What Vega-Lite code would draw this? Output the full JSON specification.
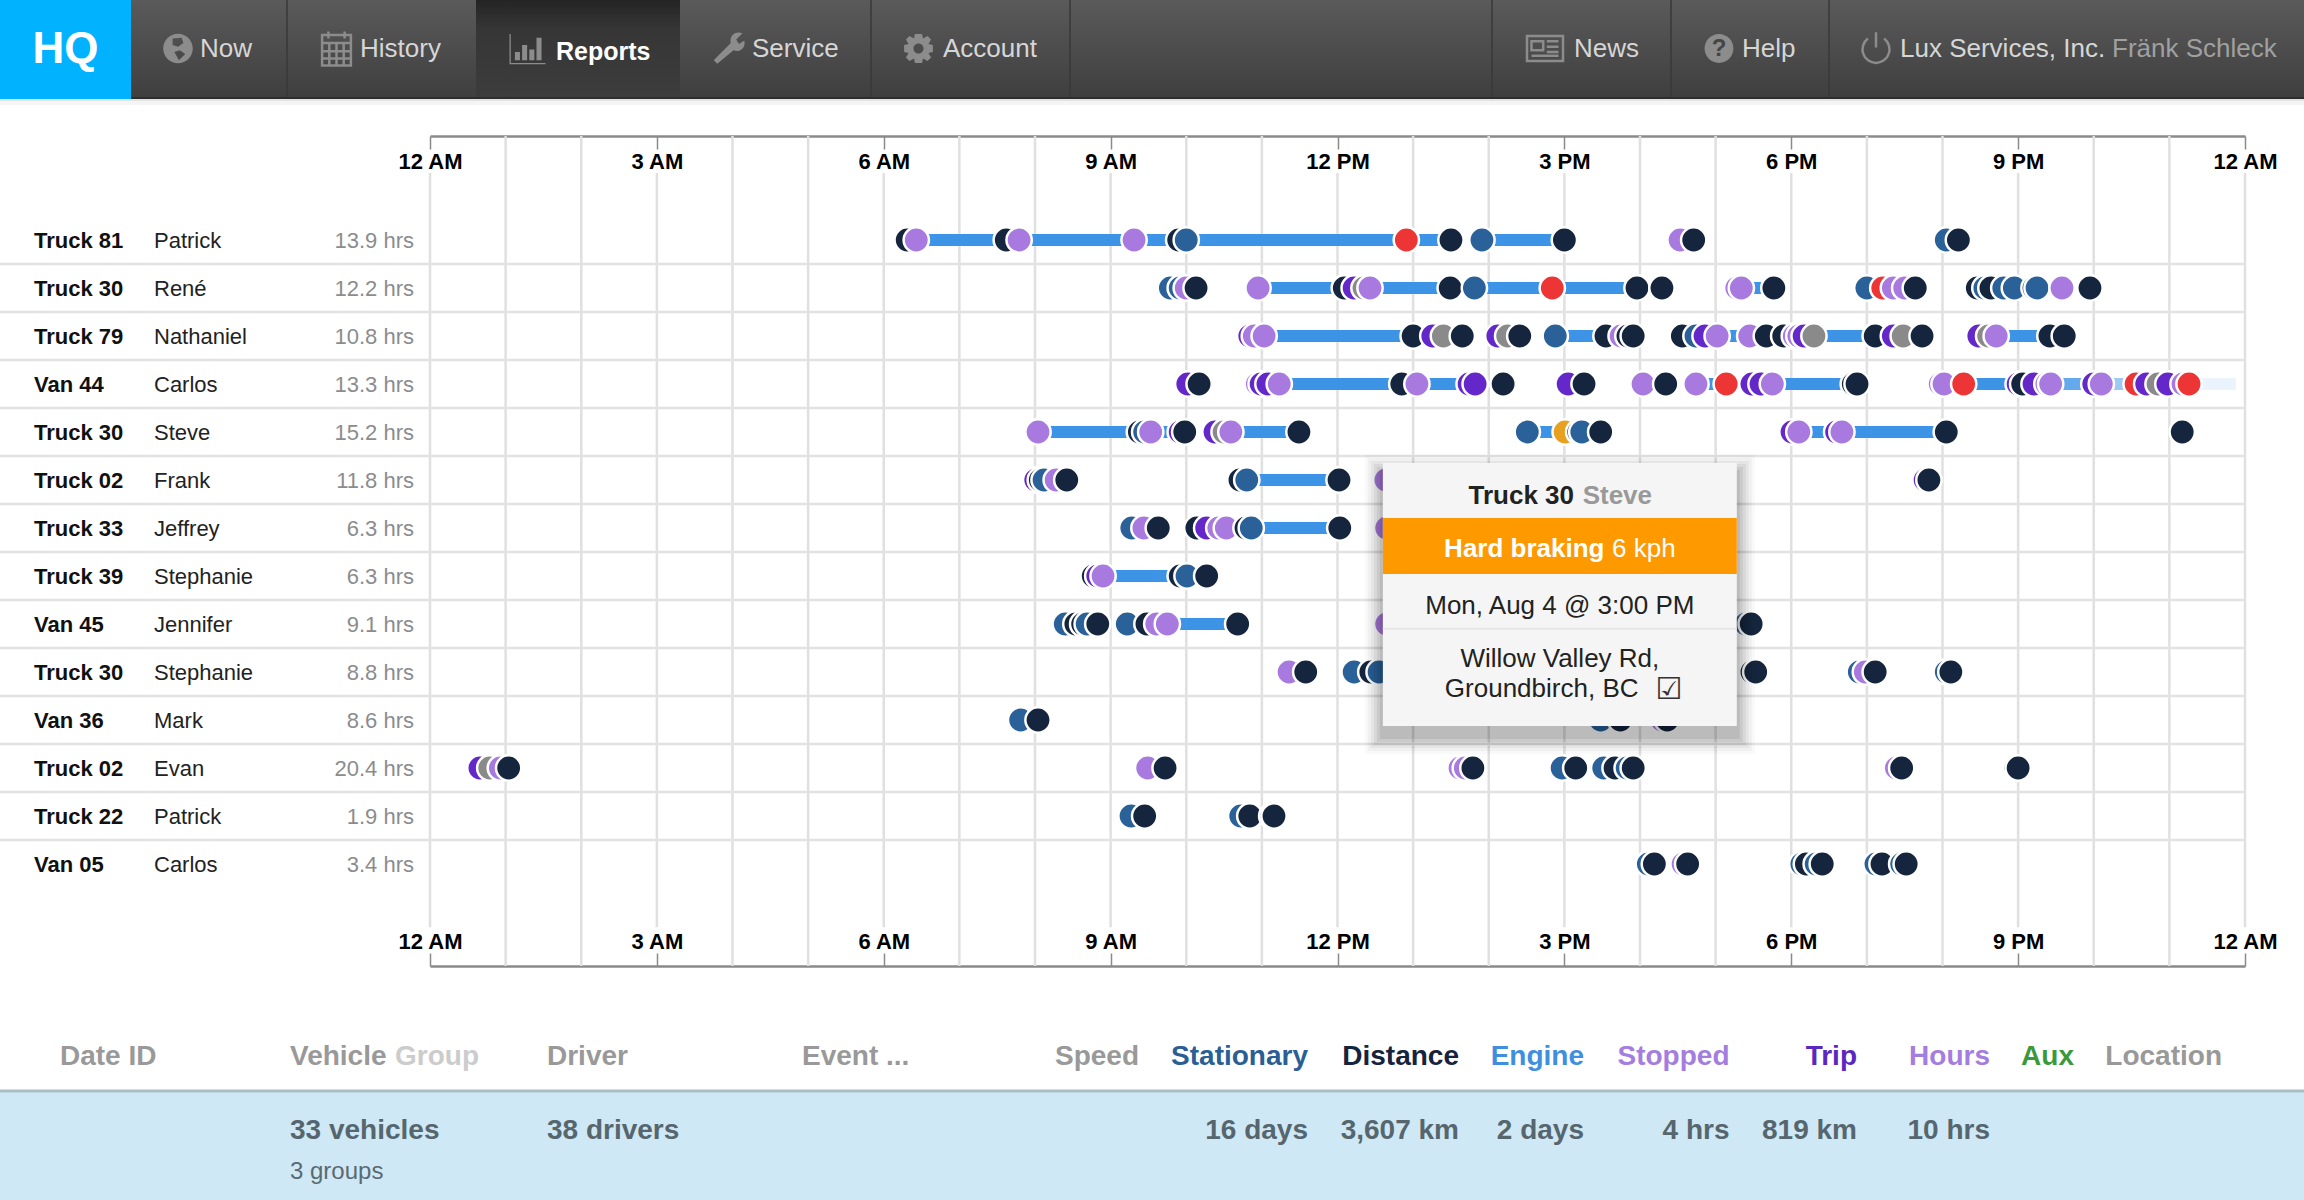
{
  "$schema": "https://vega.github.io/schema/vega-lite/v6.json",
  "width": 2304,
  "height": 1200,
  "padding": 0,
  "autosize": {"type": "none"},
  "background": "white",
  "config": {"font": "Liberation Sans", "view": {"stroke": null}},
  "datasets": {
    "rows": [
      {"row": 1, "vehicle": "Truck 81", "driver": "Patrick", "hours": "13.9 hrs"},
      {"row": 2, "vehicle": "Truck 30", "driver": "René", "hours": "12.2 hrs"},
      {"row": 3, "vehicle": "Truck 79", "driver": "Nathaniel", "hours": "10.8 hrs"},
      {"row": 4, "vehicle": "Van 44", "driver": "Carlos", "hours": "13.3 hrs"},
      {"row": 5, "vehicle": "Truck 30", "driver": "Steve", "hours": "15.2 hrs"},
      {"row": 6, "vehicle": "Truck 02", "driver": "Frank", "hours": "11.8 hrs"},
      {"row": 7, "vehicle": "Truck 33", "driver": "Jeffrey", "hours": "6.3 hrs"},
      {"row": 8, "vehicle": "Truck 39", "driver": "Stephanie", "hours": "6.3 hrs"},
      {"row": 9, "vehicle": "Van 45", "driver": "Jennifer", "hours": "9.1 hrs"},
      {"row": 10, "vehicle": "Truck 30", "driver": "Stephanie", "hours": "8.8 hrs"},
      {"row": 11, "vehicle": "Van 36", "driver": "Mark", "hours": "8.6 hrs"},
      {"row": 12, "vehicle": "Truck 02", "driver": "Evan", "hours": "20.4 hrs"},
      {"row": 13, "vehicle": "Truck 22", "driver": "Patrick", "hours": "1.9 hrs"},
      {"row": 14, "vehicle": "Van 05", "driver": "Carlos", "hours": "3.4 hrs"}
    ],
    "trips": [
      {"row": 1, "hour": 6.43, "end": 13.5, "strength": 1},
      {"row": 1, "hour": 13.91, "end": 15.0, "strength": 1},
      {"row": 2, "hour": 10.95, "end": 12.09, "strength": 1},
      {"row": 2, "hour": 12.43, "end": 15.96, "strength": 1},
      {"row": 2, "hour": 17.34, "end": 17.77, "strength": 1},
      {"row": 3, "hour": 11.03, "end": 13.0, "strength": 1},
      {"row": 3, "hour": 14.88, "end": 15.55, "strength": 1},
      {"row": 3, "hour": 17.02, "end": 17.45, "strength": 1},
      {"row": 3, "hour": 18.3, "end": 19.11, "strength": 1},
      {"row": 3, "hour": 20.71, "end": 21.42, "strength": 1},
      {"row": 4, "hour": 11.23, "end": 12.85, "strength": 1},
      {"row": 4, "hour": 13.05, "end": 13.74, "strength": 1},
      {"row": 4, "hour": 16.74, "end": 17.14, "strength": 1},
      {"row": 4, "hour": 17.75, "end": 18.82, "strength": 1},
      {"row": 4, "hour": 20.28, "end": 21.0, "strength": 1},
      {"row": 4, "hour": 21.43, "end": 22.0, "strength": 0.8},
      {"row": 4, "hour": 22.1, "end": 22.56, "strength": 0.5},
      {"row": 4, "hour": 23.26, "end": 23.88, "strength": 0.1},
      {"row": 5, "hour": 8.04, "end": 9.38, "strength": 1},
      {"row": 5, "hour": 9.53, "end": 9.92, "strength": 1},
      {"row": 5, "hour": 10.59, "end": 11.49, "strength": 1},
      {"row": 5, "hour": 14.51, "end": 15.01, "strength": 1},
      {"row": 5, "hour": 18.1, "end": 18.6, "strength": 1},
      {"row": 5, "hour": 18.67, "end": 20.05, "strength": 1},
      {"row": 6, "hour": 10.8, "end": 12.02, "strength": 1},
      {"row": 7, "hour": 10.86, "end": 12.03, "strength": 1},
      {"row": 8, "hour": 8.9, "end": 9.92, "strength": 1},
      {"row": 9, "hour": 9.75, "end": 10.68, "strength": 1}
    ],
    "events": [
      {"row": 1, "hour": 6.31, "kind": "Distance"}, {"row": 1, "hour": 6.43, "kind": "Stopped"},
      {"row": 1, "hour": 7.62, "kind": "Distance"}, {"row": 1, "hour": 7.79, "kind": "Stopped"},
      {"row": 1, "hour": 9.31, "kind": "Stopped"}, {"row": 1, "hour": 9.9, "kind": "Distance"},
      {"row": 1, "hour": 10.0, "kind": "Stationary"}, {"row": 1, "hour": 12.91, "kind": "Speed"},
      {"row": 1, "hour": 13.5, "kind": "Distance"}, {"row": 1, "hour": 13.91, "kind": "Stationary"},
      {"row": 1, "hour": 15.0, "kind": "Distance"}, {"row": 1, "hour": 16.53, "kind": "Stopped"},
      {"row": 1, "hour": 16.71, "kind": "Distance"}, {"row": 1, "hour": 20.05, "kind": "Stationary"},
      {"row": 1, "hour": 20.21, "kind": "Distance"},
      {"row": 2, "hour": 9.79, "kind": "Stationary"}, {"row": 2, "hour": 9.92, "kind": "Stationary"},
      {"row": 2, "hour": 10.0, "kind": "Stopped"}, {"row": 2, "hour": 10.13, "kind": "Distance"},
      {"row": 2, "hour": 10.95, "kind": "Stopped"}, {"row": 2, "hour": 12.09, "kind": "Distance"},
      {"row": 2, "hour": 12.22, "kind": "Trip"}, {"row": 2, "hour": 12.35, "kind": "Location"},
      {"row": 2, "hour": 12.43, "kind": "Stopped"}, {"row": 2, "hour": 13.49, "kind": "Distance"},
      {"row": 2, "hour": 13.81, "kind": "Stationary"}, {"row": 2, "hour": 14.84, "kind": "Speed"},
      {"row": 2, "hour": 15.96, "kind": "Distance"}, {"row": 2, "hour": 16.29, "kind": "Distance"},
      {"row": 2, "hour": 17.28, "kind": "Stopped"}, {"row": 2, "hour": 17.34, "kind": "Stopped"},
      {"row": 2, "hour": 17.77, "kind": "Distance"}, {"row": 2, "hour": 19.0, "kind": "Stationary"},
      {"row": 2, "hour": 19.21, "kind": "Speed"}, {"row": 2, "hour": 19.35, "kind": "Stopped"},
      {"row": 2, "hour": 19.5, "kind": "Stopped"}, {"row": 2, "hour": 19.64, "kind": "Distance"},
      {"row": 2, "hour": 20.46, "kind": "Distance"}, {"row": 2, "hour": 20.56, "kind": "Stationary"},
      {"row": 2, "hour": 20.64, "kind": "Distance"}, {"row": 2, "hour": 20.81, "kind": "Stationary"},
      {"row": 2, "hour": 20.95, "kind": "Stationary"}, {"row": 2, "hour": 21.21, "kind": "Distance"},
      {"row": 2, "hour": 21.25, "kind": "Stationary"}, {"row": 2, "hour": 21.58, "kind": "Stopped"},
      {"row": 2, "hour": 21.95, "kind": "Distance"},
      {"row": 3, "hour": 10.84, "kind": "Trip"}, {"row": 3, "hour": 10.9, "kind": "Stopped"},
      {"row": 3, "hour": 11.03, "kind": "Stopped"}, {"row": 3, "hour": 13.0, "kind": "Distance"},
      {"row": 3, "hour": 13.26, "kind": "Trip"}, {"row": 3, "hour": 13.4, "kind": "Location"},
      {"row": 3, "hour": 13.65, "kind": "Distance"}, {"row": 3, "hour": 14.12, "kind": "Trip"},
      {"row": 3, "hour": 14.25, "kind": "Location"}, {"row": 3, "hour": 14.41, "kind": "Distance"},
      {"row": 3, "hour": 14.88, "kind": "Stationary"}, {"row": 3, "hour": 15.55, "kind": "Distance"},
      {"row": 3, "hour": 15.75, "kind": "Stopped"}, {"row": 3, "hour": 15.84, "kind": "Distance"},
      {"row": 3, "hour": 15.91, "kind": "Distance"}, {"row": 3, "hour": 16.56, "kind": "Distance"},
      {"row": 3, "hour": 16.74, "kind": "Stationary"}, {"row": 3, "hour": 16.86, "kind": "Trip"},
      {"row": 3, "hour": 17.02, "kind": "Stopped"}, {"row": 3, "hour": 17.45, "kind": "Stopped"},
      {"row": 3, "hour": 17.67, "kind": "Distance"}, {"row": 3, "hour": 17.9, "kind": "Distance"},
      {"row": 3, "hour": 18.04, "kind": "Stopped"}, {"row": 3, "hour": 18.1, "kind": "Stopped"},
      {"row": 3, "hour": 18.17, "kind": "Trip"}, {"row": 3, "hour": 18.3, "kind": "Location"},
      {"row": 3, "hour": 19.11, "kind": "Distance"}, {"row": 3, "hour": 19.35, "kind": "Trip"},
      {"row": 3, "hour": 19.48, "kind": "Location"}, {"row": 3, "hour": 19.73, "kind": "Distance"},
      {"row": 3, "hour": 20.48, "kind": "Trip"}, {"row": 3, "hour": 20.61, "kind": "Location"},
      {"row": 3, "hour": 20.71, "kind": "Stopped"}, {"row": 3, "hour": 21.42, "kind": "Distance"},
      {"row": 3, "hour": 21.61, "kind": "Distance"},
      {"row": 4, "hour": 10.02, "kind": "Trip"}, {"row": 4, "hour": 10.17, "kind": "Distance"},
      {"row": 4, "hour": 10.94, "kind": "Stopped"}, {"row": 4, "hour": 10.99, "kind": "Trip"},
      {"row": 4, "hour": 11.08, "kind": "Trip"}, {"row": 4, "hour": 11.23, "kind": "Stopped"},
      {"row": 4, "hour": 12.85, "kind": "Distance"}, {"row": 4, "hour": 13.05, "kind": "Stopped"},
      {"row": 4, "hour": 13.74, "kind": "Trip"}, {"row": 4, "hour": 13.82, "kind": "Trip"},
      {"row": 4, "hour": 14.19, "kind": "Distance"}, {"row": 4, "hour": 15.05, "kind": "Trip"},
      {"row": 4, "hour": 15.26, "kind": "Distance"}, {"row": 4, "hour": 16.04, "kind": "Stopped"},
      {"row": 4, "hour": 16.34, "kind": "Distance"}, {"row": 4, "hour": 16.74, "kind": "Stopped"},
      {"row": 4, "hour": 17.14, "kind": "Speed"}, {"row": 4, "hour": 17.48, "kind": "Trip"},
      {"row": 4, "hour": 17.6, "kind": "Trip"}, {"row": 4, "hour": 17.75, "kind": "Stopped"},
      {"row": 4, "hour": 18.82, "kind": "Distance"}, {"row": 4, "hour": 18.87, "kind": "Distance"},
      {"row": 4, "hour": 19.97, "kind": "Stopped"}, {"row": 4, "hour": 20.02, "kind": "Stopped"},
      {"row": 4, "hour": 20.28, "kind": "Speed"}, {"row": 4, "hour": 21.0, "kind": "Trip"},
      {"row": 4, "hour": 21.06, "kind": "Distance"}, {"row": 4, "hour": 21.21, "kind": "Trip"},
      {"row": 4, "hour": 21.38, "kind": "Stopped"}, {"row": 4, "hour": 21.43, "kind": "Stopped"},
      {"row": 4, "hour": 22.0, "kind": "Trip"}, {"row": 4, "hour": 22.1, "kind": "Stopped"},
      {"row": 4, "hour": 22.56, "kind": "Speed"}, {"row": 4, "hour": 22.7, "kind": "Trip"},
      {"row": 4, "hour": 22.85, "kind": "Location"}, {"row": 4, "hour": 22.98, "kind": "Trip"},
      {"row": 4, "hour": 23.18, "kind": "Stopped"}, {"row": 4, "hour": 23.26, "kind": "Speed"},
      {"row": 5, "hour": 8.04, "kind": "Stopped"}, {"row": 5, "hour": 9.38, "kind": "Distance"},
      {"row": 5, "hour": 9.45, "kind": "Stationary"}, {"row": 5, "hour": 9.53, "kind": "Stopped"},
      {"row": 5, "hour": 9.92, "kind": "Trip"}, {"row": 5, "hour": 9.98, "kind": "Distance"},
      {"row": 5, "hour": 10.38, "kind": "Trip"}, {"row": 5, "hour": 10.5, "kind": "Location"},
      {"row": 5, "hour": 10.59, "kind": "Stopped"}, {"row": 5, "hour": 11.49, "kind": "Distance"},
      {"row": 5, "hour": 14.51, "kind": "Stationary"}, {"row": 5, "hour": 15.01, "kind": "Braking"},
      {"row": 5, "hour": 15.19, "kind": "Distance"}, {"row": 5, "hour": 15.23, "kind": "Stationary"},
      {"row": 5, "hour": 15.48, "kind": "Distance"}, {"row": 5, "hour": 18.01, "kind": "Trip"},
      {"row": 5, "hour": 18.1, "kind": "Stopped"}, {"row": 5, "hour": 18.6, "kind": "Trip"},
      {"row": 5, "hour": 18.67, "kind": "Stopped"}, {"row": 5, "hour": 20.05, "kind": "Distance"},
      {"row": 5, "hour": 23.17, "kind": "Distance"},
      {"row": 6, "hour": 8.01, "kind": "Trip"}, {"row": 6, "hour": 8.07, "kind": "Distance"},
      {"row": 6, "hour": 8.12, "kind": "Stationary"}, {"row": 6, "hour": 8.28, "kind": "Stopped"},
      {"row": 6, "hour": 8.42, "kind": "Distance"}, {"row": 6, "hour": 10.71, "kind": "Distance"},
      {"row": 6, "hour": 10.8, "kind": "Stationary"}, {"row": 6, "hour": 12.02, "kind": "Distance"},
      {"row": 6, "hour": 12.64, "kind": "Stopped"}, {"row": 6, "hour": 19.77, "kind": "Trip"},
      {"row": 6, "hour": 19.82, "kind": "Distance"},
      {"row": 7, "hour": 9.28, "kind": "Stationary"}, {"row": 7, "hour": 9.44, "kind": "Stopped"},
      {"row": 7, "hour": 9.63, "kind": "Distance"}, {"row": 7, "hour": 10.14, "kind": "Distance"},
      {"row": 7, "hour": 10.27, "kind": "Trip"}, {"row": 7, "hour": 10.43, "kind": "Stopped"},
      {"row": 7, "hour": 10.53, "kind": "Stopped"}, {"row": 7, "hour": 10.79, "kind": "Distance"},
      {"row": 7, "hour": 10.86, "kind": "Stationary"}, {"row": 7, "hour": 12.03, "kind": "Distance"},
      {"row": 7, "hour": 12.65, "kind": "Stopped"},
      {"row": 8, "hour": 8.77, "kind": "Distance"}, {"row": 8, "hour": 8.83, "kind": "Trip"},
      {"row": 8, "hour": 8.9, "kind": "Stopped"}, {"row": 8, "hour": 9.92, "kind": "Distance"},
      {"row": 8, "hour": 10.01, "kind": "Stationary"}, {"row": 8, "hour": 10.27, "kind": "Distance"},
      {"row": 9, "hour": 8.4, "kind": "Stationary"}, {"row": 9, "hour": 8.54, "kind": "Distance"},
      {"row": 9, "hour": 8.63, "kind": "Distance"}, {"row": 9, "hour": 8.69, "kind": "Stationary"},
      {"row": 9, "hour": 8.83, "kind": "Distance"}, {"row": 9, "hour": 9.22, "kind": "Stationary"},
      {"row": 9, "hour": 9.48, "kind": "Distance"}, {"row": 9, "hour": 9.61, "kind": "Stopped"},
      {"row": 9, "hour": 9.75, "kind": "Stopped"}, {"row": 9, "hour": 10.68, "kind": "Distance"},
      {"row": 9, "hour": 12.65, "kind": "Stopped"}, {"row": 9, "hour": 17.4, "kind": "Stationary"},
      {"row": 9, "hour": 17.47, "kind": "Distance"},
      {"row": 10, "hour": 11.36, "kind": "Stopped"}, {"row": 10, "hour": 11.58, "kind": "Distance"},
      {"row": 10, "hour": 12.22, "kind": "Stationary"}, {"row": 10, "hour": 12.44, "kind": "Distance"},
      {"row": 10, "hour": 12.55, "kind": "Stationary"}, {"row": 10, "hour": 17.48, "kind": "Distance"},
      {"row": 10, "hour": 17.53, "kind": "Distance"}, {"row": 10, "hour": 18.9, "kind": "Stationary"},
      {"row": 10, "hour": 18.98, "kind": "Stopped"}, {"row": 10, "hour": 19.11, "kind": "Distance"},
      {"row": 10, "hour": 20.05, "kind": "Stationary"}, {"row": 10, "hour": 20.11, "kind": "Distance"},
      {"row": 11, "hour": 7.81, "kind": "Stationary"}, {"row": 11, "hour": 8.04, "kind": "Distance"},
      {"row": 11, "hour": 15.48, "kind": "Stationary"}, {"row": 11, "hour": 15.74, "kind": "Distance"},
      {"row": 11, "hour": 16.29, "kind": "Stopped"}, {"row": 11, "hour": 16.36, "kind": "Distance"},
      {"row": 12, "hour": 0.66, "kind": "Trip"}, {"row": 12, "hour": 0.79, "kind": "Location"},
      {"row": 12, "hour": 0.93, "kind": "Stopped"}, {"row": 12, "hour": 1.04, "kind": "Distance"},
      {"row": 12, "hour": 9.49, "kind": "Stopped"}, {"row": 12, "hour": 9.72, "kind": "Distance"},
      {"row": 12, "hour": 13.62, "kind": "Stopped"}, {"row": 12, "hour": 13.69, "kind": "Stopped"},
      {"row": 12, "hour": 13.79, "kind": "Distance"}, {"row": 12, "hour": 14.97, "kind": "Stationary"},
      {"row": 12, "hour": 15.15, "kind": "Distance"}, {"row": 12, "hour": 15.52, "kind": "Stationary"},
      {"row": 12, "hour": 15.67, "kind": "Distance"}, {"row": 12, "hour": 15.83, "kind": "Stationary"},
      {"row": 12, "hour": 15.91, "kind": "Distance"}, {"row": 12, "hour": 19.39, "kind": "Stopped"},
      {"row": 12, "hour": 19.46, "kind": "Distance"}, {"row": 12, "hour": 20.97, "kind": "Stationary"},
      {"row": 12, "hour": 21.0, "kind": "Distance"},
      {"row": 13, "hour": 9.27, "kind": "Stationary"}, {"row": 13, "hour": 9.45, "kind": "Distance"},
      {"row": 13, "hour": 10.72, "kind": "Stationary"}, {"row": 13, "hour": 10.84, "kind": "Distance"},
      {"row": 13, "hour": 11.13, "kind": "Stationary"}, {"row": 13, "hour": 11.16, "kind": "Distance"},
      {"row": 14, "hour": 16.11, "kind": "Stationary"}, {"row": 14, "hour": 16.19, "kind": "Distance"},
      {"row": 14, "hour": 16.57, "kind": "Stopped"}, {"row": 14, "hour": 16.63, "kind": "Distance"},
      {"row": 14, "hour": 18.14, "kind": "Stationary"}, {"row": 14, "hour": 18.2, "kind": "Distance"},
      {"row": 14, "hour": 18.33, "kind": "Stationary"}, {"row": 14, "hour": 18.41, "kind": "Distance"},
      {"row": 14, "hour": 19.12, "kind": "Stationary"}, {"row": 14, "hour": 19.2, "kind": "Distance"},
      {"row": 14, "hour": 19.46, "kind": "Stationary"}, {"row": 14, "hour": 19.52, "kind": "Distance"}
    ],
    "majorHours": [
      {"hour": 0, "row": 0.356, "rowEnd": 14.62}, {"hour": 3, "row": 0.356, "rowEnd": 14.62}, {"hour": 6, "row": 0.356, "rowEnd": 14.62},
      {"hour": 9, "row": 0.356, "rowEnd": 14.62}, {"hour": 12, "row": 0.356, "rowEnd": 14.62}, {"hour": 15, "row": 0.356, "rowEnd": 14.62},
      {"hour": 18, "row": 0.356, "rowEnd": 14.62}, {"hour": 21, "row": 0.356, "rowEnd": 14.62}, {"hour": 24, "row": 0.356, "rowEnd": 14.62}
    ],
    "minorHours": [
      {"hour": 1, "row": 0, "rowEnd": 15}, {"hour": 2, "row": 0, "rowEnd": 15}, {"hour": 4, "row": 0, "rowEnd": 15}, {"hour": 5, "row": 0, "rowEnd": 15},
      {"hour": 7, "row": 0, "rowEnd": 15}, {"hour": 8, "row": 0, "rowEnd": 15}, {"hour": 10, "row": 0, "rowEnd": 15}, {"hour": 11, "row": 0, "rowEnd": 15},
      {"hour": 13, "row": 0, "rowEnd": 15}, {"hour": 14, "row": 0, "rowEnd": 15}, {"hour": 16, "row": 0, "rowEnd": 15}, {"hour": 17, "row": 0, "rowEnd": 15},
      {"hour": 19, "row": 0, "rowEnd": 15}, {"hour": 20, "row": 0, "rowEnd": 15}, {"hour": 22, "row": 0, "rowEnd": 15}, {"hour": 23, "row": 0, "rowEnd": 15}
    ],
    "separators": [
      {"row": 1.5, "hour": -5.686, "end": 24}, {"row": 2.5, "hour": -5.686, "end": 24}, {"row": 3.5, "hour": -5.686, "end": 24},
      {"row": 4.5, "hour": -5.686, "end": 24}, {"row": 5.5, "hour": -5.686, "end": 24}, {"row": 6.5, "hour": -5.686, "end": 24},
      {"row": 7.5, "hour": -5.686, "end": 24}, {"row": 8.5, "hour": -5.686, "end": 24}, {"row": 9.5, "hour": -5.686, "end": 24},
      {"row": 10.5, "hour": -5.686, "end": 24}, {"row": 11.5, "hour": -5.686, "end": 24}, {"row": 12.5, "hour": -5.686, "end": 24},
      {"row": 13.5, "hour": -5.686, "end": 24}
    ],
    "card": [{"hour": 12.6, "end": 17.28, "row": 5.646, "rowEnd": 11.125}],
    "cardBand": [{"hour": 12.6, "end": 17.28, "row": 6.79, "rowEnd": 7.96}],
    "cardLine": [{"hour": 12.6, "end": 17.28, "row": 9.1}],
    "cardStrong": [
      {"hour": 14.43, "row": 6.31, "text": "Truck 30"},
      {"hour": 15.7, "row": 6.31, "text": "Steve"},
      {"hour": 14.47, "row": 7.4, "text": "Hard braking"}
    ],
    "cardPlain": [
      {"hour": 16.05, "row": 7.4, "text": "6 kph"},
      {"hour": 14.94, "row": 8.6, "text": "Mon, Aug 4 @ 3:00 PM"},
      {"hour": 14.94, "row": 9.69, "text": "Willow Valley Rd,"},
      {"hour": 14.7, "row": 10.33, "text": "Groundbirch, BC"}
    ],
    "navItems": [
      {"slot": 0, "label": "Now", "state": "idle"},
      {"slot": 1, "label": "History", "state": "idle"},
      {"slot": 3, "label": "Service", "state": "idle"},
      {"slot": 4, "label": "Account", "state": "idle"},
      {"slot": 5, "label": "News", "state": "idle"},
      {"slot": 6, "label": "Help", "state": "idle"},
      {"slot": 7, "label": "Lux Services, Inc.", "state": "idle"},
      {"slot": 8, "label": "Fränk Schleck", "state": "user"}
    ],
    "navIcons": [
      {"slot": 0, "icon": "globe"},
      {"slot": 1, "icon": "calendar"},
      {"slot": 2, "icon": "bars"},
      {"slot": 3, "icon": "wrench"},
      {"slot": 4, "icon": "gear"},
      {"slot": 5, "icon": "news"},
      {"slot": 6, "icon": "help"},
      {"slot": 7, "icon": "power"}
    ],
    "navEdges": [{"edge": 2}, {"edge": 5}, {"edge": 6}, {"edge": 7}, {"edge": 8}, {"edge": 9}],
    "footHeads": [
      {"col": 0, "text": "Date ID"},
      {"col": 1, "text": "Vehicle"},
      {"col": 2, "text": "Group"},
      {"col": 3, "text": "Driver"},
      {"col": 4, "text": "Event ..."},
      {"col": 5, "text": "Speed"},
      {"col": 6, "text": "Stationary"},
      {"col": 7, "text": "Distance"},
      {"col": 8, "text": "Engine"},
      {"col": 9, "text": "Stopped"},
      {"col": 10, "text": "Trip"},
      {"col": 11, "text": "Hours"},
      {"col": 12, "text": "Aux"},
      {"col": 13, "text": "Location"}
    ],
    "footTotals": [
      {"col": 1, "text": "33 vehicles"},
      {"col": 3, "text": "38 drivers"},
      {"col": 6, "text": "16 days"},
      {"col": 7, "text": "3,607 km"},
      {"col": 8, "text": "2 days"},
      {"col": 9, "text": "4 hrs"},
      {"col": 10, "text": "819 km"},
      {"col": 11, "text": "10 hrs"}
    ]
  },
  "resolve": {"scale": {"x": "independent", "y": "independent", "color": "independent", "shape": "independent", "opacity": "independent"}},
  "layer": [
    {
      "resolve": {"axis": {"x": "independent"}, "scale": {"color": "independent"}},
      "encoding": {
        "x": {"field": "hour", "type": "quantitative", "axis": null, "scale": {"domain": [0, 24], "range": [430, 2245]}},
        "y": {"field": "row", "type": "quantitative", "axis": null, "scale": {"domain": [0, 1, 14, 15], "range": [136, 240, 864, 966]}}
      },
      "layer": [
        {
          "data": {"name": "minorHours"},
          "mark": {"type": "rule", "color": "#e0e0e0", "strokeWidth": 2.5},
          "encoding": {
            "x": {"field": "hour", "type": "quantitative",
              "axis": {"orient": "top", "offset": -966, "values": [0, 3, 6, 9, 12, 15, 18, 21, 24], "title": null, "grid": false,
                "labelExpr": "datum.value%24==0?'12 AM':datum.value==12?'12 PM':datum.value<12?datum.value+' AM':(datum.value-12)+' PM'",
                "labelFont": "Liberation Sans", "labelFontSize": 22, "labelFontWeight": "bold", "labelColor": "#000000", "labelPadding": 0, "labelOverlap": false, "labelFlush": false,
                "tickColor": "#8a8a8a", "tickSize": 13, "tickWidth": 1.5, "domainColor": "#8a8a8a", "domainWidth": 2.5}},
            "y2": {"field": "rowEnd"}
          }
        },
        {
          "data": {"name": "majorHours"},
          "mark": {"type": "rule", "color": "#e0e0e0", "strokeWidth": 2.5},
          "encoding": {
            "x": {"field": "hour", "type": "quantitative",
              "axis": {"orient": "bottom", "offset": -1064, "values": [0, 3, 6, 9, 12, 15, 18, 21, 24], "title": null, "grid": false,
                "labelExpr": "datum.value%24==0?'12 AM':datum.value==12?'12 PM':datum.value<12?datum.value+' AM':(datum.value-12)+' PM'",
                "labelFont": "Liberation Sans", "labelFontSize": 22, "labelFontWeight": "bold", "labelColor": "#000000", "labelPadding": 2, "labelOverlap": false, "labelFlush": false,
                "tickColor": "#8a8a8a", "tickSize": 13, "tickWidth": 1.5, "domainColor": "#8a8a8a", "domainWidth": 2.5}},
            "y2": {"field": "rowEnd"}
          }
        },
        {
          "data": {"name": "separators"},
          "mark": {"type": "rule", "color": "#e2e2e2", "strokeWidth": 2.5},
          "encoding": {"x2": {"field": "end"}}
        },
        {
          "data": {"name": "trips"},
          "mark": {"type": "rule", "color": "#3d93e6", "strokeWidth": 12},
          "encoding": {
            "x2": {"field": "end"},
            "opacity": {"field": "strength", "type": "quantitative", "legend": null, "scale": {"domain": [0, 1], "range": [0, 1]}}
          }
        },
        {
          "data": {"name": "events"},
          "mark": {"type": "circle", "size": 640, "stroke": "white", "strokeWidth": 2.5, "opacity": 1},
          "encoding": {
            "color": {"field": "kind", "type": "nominal", "legend": null,
              "scale": {"domain": ["Distance", "Stationary", "Stopped", "Trip", "Location", "Speed", "Braking"],
                "range": ["#14253d", "#2a6199", "#a87ae0", "#6427c9", "#8a8a8a", "#ee3535", "#e8a020"]}}
          }
        },
        {"data": {"name": "card"}, "mark": {"type": "rect", "color": "black", "stroke": "black", "strokeWidth": 36, "opacity": 0.02, "yOffset": 10, "y2Offset": 10}, "encoding": {"x2": {"field": "end"}, "y2": {"field": "rowEnd"}}},
        {"data": {"name": "card"}, "mark": {"type": "rect", "color": "black", "stroke": "black", "strokeWidth": 30, "opacity": 0.03, "yOffset": 10, "y2Offset": 10}, "encoding": {"x2": {"field": "end"}, "y2": {"field": "rowEnd"}}},
        {"data": {"name": "card"}, "mark": {"type": "rect", "color": "black", "stroke": "black", "strokeWidth": 24, "opacity": 0.04, "yOffset": 10, "y2Offset": 10}, "encoding": {"x2": {"field": "end"}, "y2": {"field": "rowEnd"}}},
        {"data": {"name": "card"}, "mark": {"type": "rect", "color": "black", "stroke": "black", "strokeWidth": 18, "opacity": 0.05, "yOffset": 10, "y2Offset": 10}, "encoding": {"x2": {"field": "end"}, "y2": {"field": "rowEnd"}}},
        {"data": {"name": "card"}, "mark": {"type": "rect", "color": "black", "stroke": "black", "strokeWidth": 12, "opacity": 0.06, "yOffset": 10, "y2Offset": 10}, "encoding": {"x2": {"field": "end"}, "y2": {"field": "rowEnd"}}},
        {"data": {"name": "card"}, "mark": {"type": "rect", "color": "black", "stroke": "black", "strokeWidth": 6, "opacity": 0.07, "yOffset": 10, "y2Offset": 10}, "encoding": {"x2": {"field": "end"}, "y2": {"field": "rowEnd"}}},
        {"data": {"name": "card"}, "mark": {"type": "rect", "color": "#f5f5f5"}, "encoding": {"x2": {"field": "end"}, "y2": {"field": "rowEnd"}}},
        {"data": {"name": "cardBand"}, "mark": {"type": "rect", "color": "#ff9900"}, "encoding": {"x2": {"field": "end"}, "y2": {"field": "rowEnd"}}},
        {"data": {"name": "cardLine"}, "mark": {"type": "rule", "color": "#e6e6e6", "strokeWidth": 2}, "encoding": {"x2": {"field": "end"}}},
        {
          "data": {"name": "cardStrong"},
          "mark": {"type": "text", "fontSize": 26, "fontWeight": "bold", "baseline": "middle", "align": "center", "dy": 1.5},
          "encoding": {
            "text": {"field": "text"},
            "color": {"field": "text", "type": "nominal", "legend": null, "scale": {"domain": ["Truck 30", "Steve", "Hard braking"], "range": ["#222222", "#999999", "#ffffff"]}}
          }
        },
        {
          "data": {"name": "cardPlain"},
          "mark": {"type": "text", "fontSize": 26, "baseline": "middle", "align": "center", "dy": 1.5},
          "encoding": {
            "text": {"field": "text"},
            "color": {"field": "text", "type": "nominal", "legend": null, "scale": {"domain": ["6 kph", "Mon, Aug 4 @ 3:00 PM", "Willow Valley Rd,", "Groundbirch, BC"], "range": ["#ffffff", "#222222", "#222222", "#222222"]}}
          }
        },
        {
          "data": {"values": [{"hour": 16.38, "row": 10.37, "text": "☑"}]},
          "mark": {"type": "text", "font": "DejaVu Sans", "fontSize": 30, "fontWeight": "bold", "baseline": "middle", "align": "center", "color": "#333333"},
          "encoding": {"text": {"field": "text"}}
        }
      ]
    },
    {
      "data": {"name": "rows"},
      "encoding": {
        "y": {"field": "row", "type": "quantitative", "axis": null, "scale": {"domain": [1, 14], "range": [240, 864]}}
      },
      "layer": [
        {
          "mark": {"type": "text", "fontSize": 22, "fontWeight": "bold", "align": "left", "baseline": "middle", "color": "#111111", "dy": 1},
          "encoding": {"x": {"datum": 1, "axis": null, "scale": {"domain": [1, 2, 3], "range": [34, 154, 414]}}, "text": {"field": "vehicle"}}
        },
        {
          "mark": {"type": "text", "fontSize": 22, "align": "left", "baseline": "middle", "color": "#222222", "dy": 1},
          "encoding": {"x": {"datum": 2, "axis": null}, "text": {"field": "driver"}}
        },
        {
          "mark": {"type": "text", "fontSize": 22, "align": "right", "baseline": "middle", "color": "#8c8c8c", "dy": 1},
          "encoding": {"x": {"datum": 3, "axis": null}, "text": {"field": "hours"}}
        }
      ]
    },
    {
      "encoding": {
        "y": {"datum": 0, "axis": null, "scale": {"domain": [0, 1], "range": [0, 97]}},
        "y2": {"datum": 1}
      },
      "layer": [
        {"data": {"values": [{"panel": "shadow"}]}, "mark": {"type": "rule", "color": "black", "strokeWidth": 8, "opacity": 0.04}, "encoding": {"y": {"datum": 1.04}, "y2": null}},
        {"data": {"values": [{"panel": "shadow"}]}, "mark": {"type": "rule", "color": "black", "strokeWidth": 4, "opacity": 0.07}, "encoding": {"y": {"datum": 1.02}, "y2": null}},
        {"data": {"values": [{"panel": "bar"}]}, "mark": {"type": "rect", "color": {"gradient": "linear", "x1": 0, "y1": 0, "x2": 0, "y2": 1, "stops": [{"offset": 0, "color": "#5a5a5a"}, {"offset": 1, "color": "#3f3f3f"}]}}},
        {"data": {"values": [{"panel": "line"}]}, "mark": {"type": "rule", "color": "#2e2e2e", "strokeWidth": 2}, "encoding": {"y": {"datum": 1.01}, "y2": null}},
        {
          "data": {"values": [{"edge": 3, "edgeEnd": 4}]},
          "mark": {"type": "rect", "color": {"gradient": "linear", "x1": 0, "y1": 0, "x2": 0, "y2": 1, "stops": [{"offset": 0, "color": "#242424"}, {"offset": 0.3, "color": "#363636"}, {"offset": 1, "color": "#3c3c3c"}]}},
          "encoding": {"x": {"field": "edge", "type": "quantitative", "axis": null, "scale": {"domain": [0, 1, 2, 3, 4, 5, 6, 7, 8, 9, 10], "range": [0, 131, 287, 476, 680, 871, 1070, 1492, 1671, 1829, 2304]}}, "x2": {"field": "edgeEnd"}}
        },
        {
          "data": {"values": [{"edge": 0, "edgeEnd": 1}]},
          "mark": {"type": "rect", "color": "#00b2ff"},
          "encoding": {"x": {"field": "edge", "type": "quantitative", "axis": null}, "x2": {"field": "edgeEnd"}, "y2": {"datum": 1.02}}
        },
        {
          "data": {"name": "navEdges"},
          "mark": {"type": "rule", "color": "#393939", "strokeWidth": 1.5},
          "encoding": {"x": {"field": "edge", "type": "quantitative", "axis": null}}
        },
        {
          "data": {"values": [{"edge": 0.5, "label": "HQ"}]},
          "mark": {"type": "text", "fontSize": 44, "fontWeight": "bold", "color": "white", "align": "center", "baseline": "middle"},
          "encoding": {"x": {"field": "edge", "type": "quantitative", "axis": null}, "y": {"datum": 0.52}, "y2": null, "text": {"field": "label"}}
        }
      ]
    },
    {
      "encoding": {
        "y": {"datum": 0.5, "axis": null, "scale": {"domain": [0, 1], "range": [0, 97]}}
      },
      "layer": [
        {
          "data": {"name": "navItems"},
          "mark": {"type": "text", "fontSize": 26, "align": "left", "baseline": "middle"},
          "encoding": {
            "x": {"field": "slot", "type": "quantitative", "axis": null, "scale": {"domain": [0, 1, 2, 3, 4, 5, 6, 7, 8], "range": [200, 360, 556, 752, 943, 1574, 1742, 1900, 2112]}},
            "text": {"field": "label"},
            "color": {"field": "state", "type": "nominal", "legend": null, "scale": {"domain": ["idle", "user"], "range": ["#d6d6d6", "#a0a0a0"]}}
          }
        },
        {
          "data": {"values": [{"slot": 2, "label": "Reports"}]},
          "mark": {"type": "text", "fontSize": 25, "fontWeight": "bold", "align": "left", "baseline": "middle", "color": "white", "yOffset": 3},
          "encoding": {"x": {"field": "slot", "type": "quantitative", "axis": null}, "text": {"field": "label"}}
        }
      ]
    },
    {
      "data": {"name": "navIcons"},
      "resolve": {"scale": {"shape": "independent"}},
      "encoding": {
        "x": {"field": "slot", "type": "quantitative", "axis": null, "scale": {"domain": [0, 1, 2, 3, 4, 5, 6, 7], "range": [178, 336.5, 527.5, 729, 918.5, 1545, 1719, 1876]}},
        "y": {"datum": 0.5, "axis": null, "scale": {"domain": [0, 1], "range": [0, 97]}}
      },
      "layer": [
        {
          "transform": [{"filter": {"field": "icon", "oneOf": ["globe", "bars", "wrench", "gear", "help"]}}],
          "mark": {"type": "point", "filled": true, "size": 1296, "opacity": 1, "color": "#8c8c8c"},
          "encoding": {
            "shape": {"field": "icon", "type": "nominal", "legend": null, "scale": {
              "domain": ["globe", "bars", "wrench", "gear", "help"],
              "range": [
                "M-.82 0A.82 .82 0 1 1 .82 0A.82 .82 0 1 1 -.82 0ZM-.3 -.55L-.3 -.2 0 -.1 .3 -.3 .2 -.6ZM-.2 .2L.05 .65 .4 .3 .1 .1Z",
                "M-1 -.8H-.93V.8H1V.87H-1ZM-.7 .2H-.42V.65H-.7ZM-.3 -.2H-.02V.65H-.3ZM.1 .05H.38V.65H.1ZM.5 -.6H.78V.65H.5Z",
                "M-.85 .65L.1 -.3C0 -.7 .35 -1 .75 -.85L.4 -.5 .55 -.25 .85 -.45C.95 -.05 .6 .25 .25 .1L-.65 .85Z",
                "M-.2 -.8H.2L.25 -.55 .5 -.7 .7 -.5 .55 -.25 .8 -.2V.2L.55 .25 .7 .5 .5 .7 .25 .55 .2 .8H-.2L-.25 .55 -.5 .7 -.7 .5 -.55 .25 -.8 .2V-.2L-.55 -.25 -.7 -.5 -.5 -.7 -.25 -.55ZM0 -.28A.28 .28 0 0 0 0 .28A.28 .28 0 0 0 0 -.28Z",
                "M-.8 0A.8 .8 0 1 1 .8 0A.8 .8 0 1 1 -.8 0Z"
              ]}}
          }
        },
        {
          "transform": [{"filter": {"field": "icon", "oneOf": ["calendar", "news", "power"]}}],
          "mark": {"type": "point", "filled": false, "size": 1296, "opacity": 1, "stroke": "#8c8c8c", "strokeWidth": 2.5},
          "encoding": {
            "shape": {"field": "icon", "type": "nominal", "legend": null, "scale": {
              "domain": ["calendar", "news", "power"],
              "range": [
                "M-.8 -.75H.8V.95H-.8ZM-.8 -.3H.8M-.8 .15H.8M-.8 .55H.8M-.4 -.3V.95M0 -.3V.95M.4 -.3V.95M-.45 -.95V-.55M.45 -.95V-.55",
                "M-1 -.7H1V.7H-1ZM-.75 -.4H-.1V.1H-.75ZM.1 -.4H.75M.1 -.1H.75M.1 .2H.75M-.75 .4H.75",
                "M-.45 -.55A.75 .75 0 1 0 .45 -.55M0 -.9V-.05"
              ]}}
          }
        },
        {
          "transform": [{"filter": {"field": "icon", "equal": "help"}}],
          "mark": {"type": "text", "text": "?", "fontSize": 24, "fontWeight": "bold", "color": "#454545", "align": "center", "baseline": "middle"}
        }
      ]
    },
    {
      "resolve": {"scale": {"color": "independent"}},
      "encoding": {
        "x": {"field": "col", "type": "quantitative", "axis": null, "scale": {"domain": [0, 1, 2, 3, 4, 5, 6, 7, 8, 9, 10, 11, 12, 13], "range": [60, 290, 395, 547, 802, 1139, 1308, 1459, 1584, 1729.5, 1857, 1990, 2074, 2222]}},
        "y": {"datum": 0, "axis": null, "scale": {"domain": [0, 1, 2, 3, 4], "range": [1055, 1091, 1128, 1170, 1200]}}
      },
      "layer": [
        {"data": {"values": [{"panel": "totals"}]}, "mark": {"type": "rect", "color": "#cfe8f5"}, "encoding": {"x": null, "y": {"datum": 1}, "y2": {"datum": 4}}},
        {"data": {"values": [{"panel": "totals"}]}, "mark": {"type": "rule", "color": "#a9bec7", "strokeWidth": 3}, "encoding": {"x": null, "y": {"datum": 1}}},
        {
          "data": {"name": "footHeads"},
          "transform": [{"filter": "datum.col < 5"}],
          "mark": {"type": "text", "fontSize": 28, "fontWeight": "bold", "align": "left", "baseline": "middle", "dy": 2},
          "encoding": {
            "text": {"field": "text"},
            "color": {"field": "text", "type": "nominal", "legend": null, "scale": {"domain": ["Date ID", "Vehicle", "Group", "Driver", "Event ..."], "range": ["#999999", "#999999", "#cccccc", "#999999", "#999999"]}}
          }
        },
        {
          "data": {"name": "footHeads"},
          "transform": [{"filter": "datum.col >= 5"}],
          "mark": {"type": "text", "fontSize": 28, "fontWeight": "bold", "align": "right", "baseline": "middle", "dy": 2},
          "encoding": {
            "text": {"field": "text"},
            "color": {"field": "text", "type": "nominal", "legend": null, "scale": {"domain": ["Speed", "Stationary", "Distance", "Engine", "Stopped", "Trip", "Hours", "Aux", "Location"], "range": ["#999999", "#2a5f96", "#15243c", "#3f8fe0", "#a47de0", "#5a27c0", "#a47de0", "#3a9a3a", "#999999"]}}
          }
        },
        {
          "data": {"name": "footTotals"},
          "transform": [{"filter": "datum.col < 5"}],
          "mark": {"type": "text", "fontSize": 28, "fontWeight": "bold", "align": "left", "baseline": "middle", "color": "#56666f", "dy": 3},
          "encoding": {"y": {"datum": 2}, "text": {"field": "text"}}
        },
        {
          "data": {"name": "footTotals"},
          "transform": [{"filter": "datum.col >= 5"}],
          "mark": {"type": "text", "fontSize": 28, "fontWeight": "bold", "align": "right", "baseline": "middle", "color": "#56666f", "dy": 3},
          "encoding": {"y": {"datum": 2}, "text": {"field": "text"}}
        },
        {
          "data": {"values": [{"col": 1, "text": "3 groups"}]},
          "mark": {"type": "text", "fontSize": 24, "align": "left", "baseline": "middle", "color": "#5a6a72", "dy": 2},
          "encoding": {"y": {"datum": 3}, "text": {"field": "text"}}
        }
      ]
    }
  ]
}
